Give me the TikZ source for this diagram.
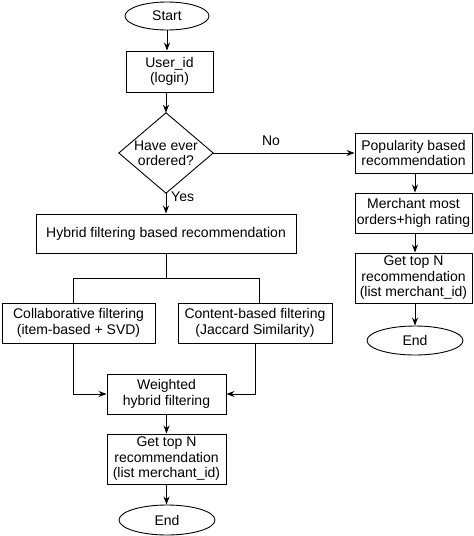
\documentclass[tikz,border=0pt]{standalone}
\usepackage{fontspec}
\setmainfont{Liberation Sans}
\usetikzlibrary{shapes.geometric,arrows.meta}
\begin{document}
\begin{tikzpicture}[x=1pt,y=-1pt,
  txt/.style={align=center,inner sep=0pt,font=\fontsize{14}{15.5}\selectfont},
  box/.style={txt,draw,line width=0.9pt},
  term/.style={txt,draw,ellipse,line width=0.9pt},
  arr/.style={-{Stealth[length=8pt,width=6pt]},line width=0.9pt},
  ln/.style={line width=0.9pt}]
\useasboundingbox (0,0) rectangle (474,536);
\node[term,minimum width=84pt,minimum height=28pt] (start) at (167,16) {Start};
\node[box,minimum width=87pt,minimum height=41pt] (user) at (169.5,71.5) {User\_id\\(login)};
\node[txt,minimum width=94pt,minimum height=80pt] (q) at (166,153) {Have ever\\ordered?};
\draw[ln] (q.north) -- (q.east) -- (q.south) -- (q.west) -- cycle;
\node[box,minimum width=260pt,minimum height=39pt] (hyb) at (166,233.5) {Hybrid filtering based recommendation};
\node[box,minimum width=153pt,minimum height=40pt] (col) at (78.5,323) {Collaborative filtering\\(item-based + SVD)};
\node[box,minimum width=154pt,minimum height=40pt] (con) at (255,323) {Content-based filtering\\(Jaccard Similarity)};
\node[box,minimum width=119pt,minimum height=40pt] (wgt) at (166.5,394) {Weighted\\hybrid filtering};
\node[box,minimum width=119pt,minimum height=50pt] (top) at (166.5,459) {Get top N\\recommendation\\(list merchant\_id)};
\node[term,minimum width=96pt,minimum height=30pt] (end) at (167,520) {End};
\node[box,minimum width=117pt,minimum height=40pt] (pop) at (413.5,153) {Popularity based\\recommendation};
\node[box,minimum width=117pt,minimum height=40pt] (mer) at (413.5,213) {Merchant most\\orders+high rating};
\node[box,minimum width=117pt,minimum height=50pt] (top2) at (413.5,278) {Get top N\\recommendation\\(list merchant\_id)};
\node[term,minimum width=96pt,minimum height=29pt] (end2) at (415,340.5) {End};
\node[txt] (no) at (271,141) {No};
\node[txt,anchor=west] (yes) at (171,197) {Yes};
\coordinate (sp) at (166,278);
\draw[arr] (start.south) -- (start.south |- user.north);
\draw[arr] (user.south -| q.north) -- (q.north);
\draw[arr] (q.east) -- (pop.west);
\draw[arr] (q.south) -- (hyb.north);
\draw[ln] (hyb.south) -- (sp);
\draw[ln] ([xshift=-5pt]col.north) -- ([xshift=-5pt]col.north |- sp) -- ([xshift=4pt]con.north |- sp) -- ([xshift=4pt]con.north);
\draw[arr] ([xshift=-5pt]col.south) |- (wgt.west);
\draw[arr] (con.south) |- (wgt.east);
\draw[arr] (wgt.south) -- (top.north);
\draw[arr] (top.south) -- (top.south |- end.north);
\draw[arr] (pop.south -| end2.north) -- (mer.north -| end2.north);
\draw[arr] (mer.south -| end2.north) -- (top2.north -| end2.north);
\draw[arr] (top2.south -| end2.north) -- (end2.north);
\end{tikzpicture}
\end{document}
